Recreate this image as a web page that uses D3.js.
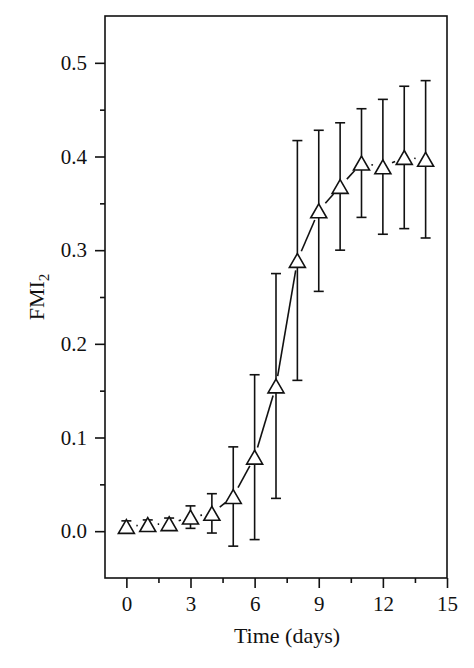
<!DOCTYPE html>
<html>
<head>
<meta charset="utf-8">
<script src="https://cdn.jsdelivr.net/npm/d3@7"></script>
<style>
  html, body { margin: 0; padding: 0; background: #fff; }
  svg { display: block; }
  text { font-family: "Liberation Serif", "DejaVu Serif", serif; fill: #111; }
</style>
</head>
<body>
<script>
// ---- data ----
const days   = [0, 1, 2, 3, 4, 5, 6, 7, 8, 9, 10, 11, 12, 13, 14];
const fmi2   = [0.005, 0.007, 0.008, 0.015, 0.019, 0.037, 0.079, 0.155, 0.289, 0.342, 0.368, 0.393, 0.389, 0.399, 0.397];
const sd     = [0.006, 0.005, 0.006, 0.012, 0.021, 0.053, 0.088, 0.120, 0.128, 0.086, 0.068, 0.058, 0.072, 0.076, 0.084];
const xTicks = [0, 3, 6, 9, 12, 15];
const xMinor = [1.5, 4.5, 7.5, 10.5, 13.5];
const yTicks = [0.0, 0.1, 0.2, 0.3, 0.4, 0.5];
const yMinor = [0.05, 0.15, 0.25, 0.35, 0.45];

const W = 474, H = 668;
const m = { left: 105, right: 27, top: 16, bottom: 90 };
const svg = d3.select("body").append("svg").attr("width", W).attr("height", H);

const x = d3.scaleLinear().domain([-1, 15]).range([m.left, W - m.right]);
const y = d3.scaleLinear().domain([-0.05, 0.55]).range([H - m.bottom, m.top]);

const axisColor = "#111";
const sw = 1.6;

// frame
svg.append("rect")
  .attr("x", x(-1)).attr("y", y(0.55))
  .attr("width", x(15) - x(-1)).attr("height", y(-0.05) - y(0.55))
  .attr("fill", "none").attr("stroke", axisColor).attr("stroke-width", sw);

// axes
const gx = svg.append("g").attr("transform", `translate(0,${y(-0.05)})`)
  .call(d3.axisBottom(x).tickValues(xTicks).tickSize(10).tickPadding(8).tickFormat(d3.format("d")));
const gxm = svg.append("g").attr("transform", `translate(0,${y(-0.05)})`)
  .call(d3.axisBottom(x).tickValues(xMinor).tickSize(5).tickFormat(""));
const gy = svg.append("g").attr("transform", `translate(${x(-1)},0)`)
  .call(d3.axisLeft(y).tickValues(yTicks).tickSize(10).tickPadding(8).tickFormat(d3.format(".1f")));
const gym = svg.append("g").attr("transform", `translate(${x(-1)},0)`)
  .call(d3.axisLeft(y).tickValues(yMinor).tickSize(5).tickFormat(""));

[gx, gxm, gy, gym].forEach(g => {
  g.select(".domain").remove();
  g.selectAll("line").attr("stroke", axisColor).attr("stroke-width", sw);
  g.selectAll("text").attr("font-size", 21).attr("font-family", "Liberation Serif").attr("fill", "#111");
});

// axis titles
svg.append("text")
  .attr("x", 287).attr("y", 643)
  .attr("text-anchor", "middle").attr("font-size", 22)
  .text("Time (days)");

const yl = svg.append("text")
  .attr("transform", `translate(44,${(y(0.55) + y(-0.05)) / 2}) rotate(-90)`)
  .attr("text-anchor", "middle").attr("font-size", 22);
yl.append("tspan").text("FMI");
yl.append("tspan").attr("font-size", 15).attr("dy", 5).text("2");

// data
const pts = days.map((d, i) => ({ d, v: fmi2[i], s: sd[i] }));

// error bars
const eb = svg.append("g").attr("stroke", axisColor).attr("stroke-width", sw);
pts.forEach(p => {
  const cx = x(p.d);
  eb.append("line").attr("x1", cx).attr("x2", cx).attr("y1", y(p.v - p.s)).attr("y2", y(p.v + p.s));
  eb.append("line").attr("x1", cx - 5).attr("x2", cx + 5).attr("y1", y(p.v + p.s)).attr("y2", y(p.v + p.s));
  eb.append("line").attr("x1", cx - 5).attr("x2", cx + 5).attr("y1", y(p.v - p.s)).attr("y2", y(p.v - p.s));
});

// connecting line with gaps around symbols
const gap = 10;
const lg = svg.append("g").attr("stroke", axisColor).attr("stroke-width", sw);
for (let i = 0; i < pts.length - 1; i++) {
  const x1 = x(pts[i].d), y1 = y(pts[i].v), x2 = x(pts[i + 1].d), y2 = y(pts[i + 1].v);
  const L = Math.hypot(x2 - x1, y2 - y1);
  if (L <= 2 * gap) continue;
  const ux = (x2 - x1) / L, uy = (y2 - y1) / L;
  lg.append("line")
    .attr("x1", x1 + ux * gap).attr("y1", y1 + uy * gap)
    .attr("x2", x2 - ux * gap).attr("y2", y2 - uy * gap);
}

// triangles
const side = 16, th = side * Math.sqrt(3) / 2;
const tri = `M0,${-th / 2}L${side / 2},${th / 2}L${-side / 2},${th / 2}Z`;
svg.append("g").selectAll("path").data(pts).join("path")
  .attr("d", tri)
  .attr("transform", p => `translate(${x(p.d)},${y(p.v)})`)
  .attr("fill", "#fff").attr("stroke", axisColor).attr("stroke-width", sw)
  .attr("stroke-linejoin", "miter");
</script>
</body>
</html>
